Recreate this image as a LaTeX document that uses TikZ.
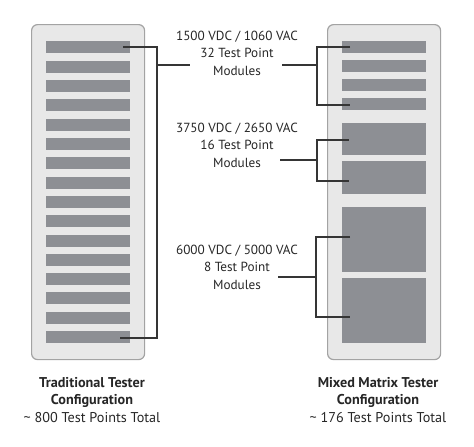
\documentclass[tikz,border=0pt]{standalone}
\usepackage{fontspec}
\setmainfont{PT Sans}
\definecolor{rackfill}{HTML}{E8E8E8}
\definecolor{rackline}{HTML}{A3A3A3}
\definecolor{barfill}{HTML}{8D8F94}
\definecolor{wire}{HTML}{353535}
\definecolor{txt}{HTML}{262626}
\begin{document}
\begin{tikzpicture}[x=1pt,y=-1pt,
  rack/.style={draw=rackline,fill=rackfill,line width=1.2pt,rounded corners=6pt,inner sep=0pt,anchor=north west},
  bar/.style={fill=barfill,inner sep=0pt,anchor=north west,minimum width=84pt},
  wireline/.style={draw=wire,line width=2.8pt},
  lbl/.style={align=center,text=txt,font=\fontsize{13.2}{17.5}\selectfont},
  caption/.style={align=center,text=txt,font=\fontsize{14.2}{17.8}\selectfont}]
\useasboundingbox (0,0) rectangle (474,447);
% racks
\node[rack,minimum width=113pt,minimum height=335pt] (LR) at (31,24) {};
\node[rack,minimum width=113pt,minimum height=335pt] (RR) at (327,24) {};
% left bars
\foreach \i in {1,...,16}{
  \node[bar,minimum height=12pt] (L\i) at (46,{41+19.33*(\i-1)}) {};
}
% right bars
\node[bar,minimum height=12pt] (R1) at (342,41) {};
\node[bar,minimum height=12pt] (R2) at (342,60) {};
\node[bar,minimum height=12pt] (R3) at (342,79) {};
\node[bar,minimum height=12pt] (R4) at (342,98) {};
\node[bar,minimum height=32pt] (R5) at (342,123) {};
\node[bar,minimum height=33pt] (R6) at (342,161) {};
\node[bar,minimum height=65pt] (R7) at (342,207) {};
\node[bar,minimum height=65pt] (R8) at (342,278) {};
% labels
\node[lbl] (T1) at (237,53) {1500 VDC / 1060 VAC\\32 Test Point\\Modules};
\node[lbl] (T2) at (237,145) {3750 VDC / 2650 VAC\\16 Test Point\\Modules};
\node[lbl] (T3) at (237,267) {6000 VDC / 5000 VAC\\8 Test Point\\Modules};
\node[caption] (C1) at (92,400) {\textbf{Traditional Tester}\\\textbf{Configuration}\\\textasciitilde{} 800 Test Points Total};
\node[caption] (C2) at (378,400) {\textbf{Mixed Matrix Tester}\\\textbf{Configuration}\\\textasciitilde{} 176 Test Points Total};
% connector points
\coordinate (a1) at (123,47);
\coordinate (a2) at (157,47);
\coordinate (a3) at (157,338);
\coordinate (a4) at (120,338);
\coordinate (a5) at (157,65);
\coordinate (a6) at (190,65);
\coordinate (b1) at (282,65);
\coordinate (b2) at (317,65);
\coordinate (b3) at (317,47);
\coordinate (b4) at (350,47);
\coordinate (b5) at (317,105);
\coordinate (b6) at (350,105);
\coordinate (c1) at (280,160);
\coordinate (c2) at (317,160);
\coordinate (c3) at (317,140);
\coordinate (c4) at (349,140);
\coordinate (c5) at (317,181);
\coordinate (c6) at (349,181);
\coordinate (d1) at (278,277);
\coordinate (d2) at (316,277);
\coordinate (d3) at (316,237);
\coordinate (d4) at (350,237);
\coordinate (d5) at (316,317);
\coordinate (d6) at (350,317);
% connectors
\draw[wireline] (a1) -- (a2) -- (a3) -- (a4);
\draw[wireline] (a5) -- (a6);
\draw[wireline] (b1) -- (b2);
\draw[wireline] (b4) -- (b3) -- (b5) -- (b6);
\draw[wireline] (c1) -- (c2);
\draw[wireline] (c4) -- (c3) -- (c5) -- (c6);
\draw[wireline] (d1) -- (d2);
\draw[wireline] (d4) -- (d3) -- (d5) -- (d6);
\end{tikzpicture}
\end{document}
